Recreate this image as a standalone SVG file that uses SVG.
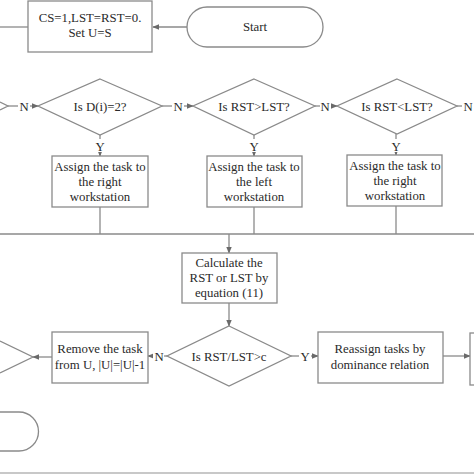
<svg xmlns="http://www.w3.org/2000/svg" width="474" height="474" viewBox="0 0 474 474">
<style>
.s{fill:#fff;stroke:#8a8a8a;stroke-width:1.3}
.l{fill:none;stroke:#8a8a8a;stroke-width:1.3}
text{font-family:'Liberation Serif','DejaVu Serif',serif;font-size:12.8px;fill:#2a2a2a;text-anchor:middle}
.lb{fill:#fff;stroke:none}
</style>
<defs>
<marker id="a" viewBox="0 0 10 10" refX="9" refY="5" markerWidth="7" markerHeight="7" orient="auto" markerUnits="userSpaceOnUse">
<path d="M0,1 L10,5 L0,9 z" fill="#6a6a6a"/>
</marker>
</defs>
<rect x="0" y="0" width="474" height="474" fill="#fff"/>
<g id="connectors" font-family="Liberation Serif, serif">
<line class="l" x1="0" y1="27" x2="28" y2="27"/>
<line class="l" x1="187" y1="27" x2="153" y2="27" marker-end="url(#a)"/>
<line class="l" x1="8" y1="106" x2="38" y2="106" marker-end="url(#a)"/>
<line class="l" x1="162" y1="106" x2="193" y2="106" marker-end="url(#a)"/>
<line class="l" x1="315" y1="106" x2="337" y2="106" marker-end="url(#a)"/>
<line class="l" x1="457" y1="106" x2="474" y2="106"/>
<line class="l" x1="100" y1="135" x2="100" y2="156" marker-end="url(#a)"/>
<line class="l" x1="254" y1="135" x2="254" y2="156" marker-end="url(#a)"/>
<line class="l" x1="396" y1="134" x2="396" y2="155" marker-end="url(#a)"/>
<line class="l" x1="100" y1="207" x2="100" y2="234"/>
<line class="l" x1="254" y1="207" x2="254" y2="234"/>
<line class="l" x1="396" y1="206" x2="396" y2="234"/>
<line class="l" x1="0" y1="234" x2="474" y2="234"/>
<line class="l" x1="229" y1="234" x2="229" y2="253" marker-end="url(#a)"/>
<line class="l" x1="229" y1="303" x2="229" y2="326" marker-end="url(#a)"/>
<line class="l" x1="167" y1="356" x2="148" y2="356" marker-end="url(#a)"/>
<line class="l" x1="291" y1="356" x2="318" y2="356" marker-end="url(#a)"/>
<line class="l" x1="443" y1="356" x2="470" y2="356" marker-end="url(#a)"/>
<line class="l" x1="52" y1="357" x2="33" y2="357" marker-end="url(#a)"/>
<rect class="lb" x="18" y="99" width="12" height="14"/>
<text x="24" y="111">N</text>
<rect class="lb" x="172" y="99" width="12" height="14"/>
<text x="178" y="111">N</text>
<rect class="lb" x="320" y="99" width="11" height="14"/>
<text x="325" y="111">N</text>
<rect class="lb" x="462" y="99" width="12" height="14"/>
<text x="468" y="111">N</text>
<rect class="lb" x="94" y="139" width="12" height="13"/>
<text x="100" y="151">Y</text>
<rect class="lb" x="248" y="139" width="12" height="13"/>
<text x="254" y="151">Y</text>
<rect class="lb" x="390" y="139" width="12" height="13"/>
<text x="396" y="151">Y</text>
<rect class="lb" x="153" y="349" width="11" height="14"/>
<text x="159" y="361">N</text>
<rect class="lb" x="299" y="349" width="12" height="14"/>
<text x="305" y="361">Y</text>
</g>
<g id="init">
<rect class="s" x="28" y="1" width="124" height="51"/>
<text x="90" y="22">CS=1,LST=RST=0.</text>
<text x="90" y="37">Set U=S</text>
</g>
<g id="start">
<rect class="s" x="187" y="7" width="136" height="40" rx="20" ry="20"/>
<text x="255" y="31">Start</text>
</g>
<g id="prev-decision">
<path class="l" d="M0,102 L8,106 L0,110"/>
</g>
<g id="d1">
<polygon class="s" points="100,79 162,106 100,135 38,106"/>
<text x="100" y="111">Is D(i)=2?</text>
</g>
<g id="d2">
<polygon class="s" points="254,79 315,106 254,135 193,106"/>
<text x="254" y="111">Is RST&gt;LST?</text>
</g>
<g id="d3">
<polygon class="s" points="397,79 457,106 397,134 337,106"/>
<text x="397" y="111">Is RST&lt;LST?</text>
</g>
<g id="b1">
<rect class="s" x="52" y="156" width="96" height="51"/>
<text x="100" y="171">Assign the task to</text>
<text x="100" y="186">the right</text>
<text x="100" y="201">workstation</text>
</g>
<g id="b2">
<rect class="s" x="207" y="156" width="95" height="51"/>
<text x="254" y="171">Assign the task to</text>
<text x="254" y="186">the left</text>
<text x="254" y="201">workstation</text>
</g>
<g id="b3">
<rect class="s" x="347" y="155" width="95" height="51"/>
<text x="395" y="170">Assign the task to</text>
<text x="395" y="185">the right</text>
<text x="395" y="200">workstation</text>
</g>
<g id="calc">
<rect class="s" x="182" y="253" width="95" height="50"/>
<text x="229" y="267">Calculate the</text>
<text x="229" y="282">RST or LST by</text>
<text x="229" y="297">equation (11)</text>
</g>
<g id="d4">
<polygon class="s" points="229,326 291,356 229,386 167,356"/>
<text x="229" y="361">Is RST/LST&gt;c</text>
</g>
<g id="remove">
<rect class="s" x="52" y="332" width="96" height="51"/>
<text x="100" y="353">Remove the task</text>
<text x="100" y="369">from U, |U|=|U|-1</text>
</g>
<g id="reassign">
<rect class="s" x="318" y="332" width="125" height="51"/>
<text x="380" y="353">Reassign tasks by</text>
<text x="380" y="369">dominance relation</text>
</g>
<g id="next-box">
<rect class="s" x="470" y="333" width="20" height="52"/>
</g>
<g id="left-decision">
<path class="l" d="M0,341 L33,357 L0,373"/>
</g>
<g id="end">
<path class="s" d="M-2,412 L19,412 A19.5,19.5 0 0 1 19,451 L-2,451"/>
</g>
<rect x="0" y="472" width="474" height="2" fill="#c8c8c8"/>
</svg>
